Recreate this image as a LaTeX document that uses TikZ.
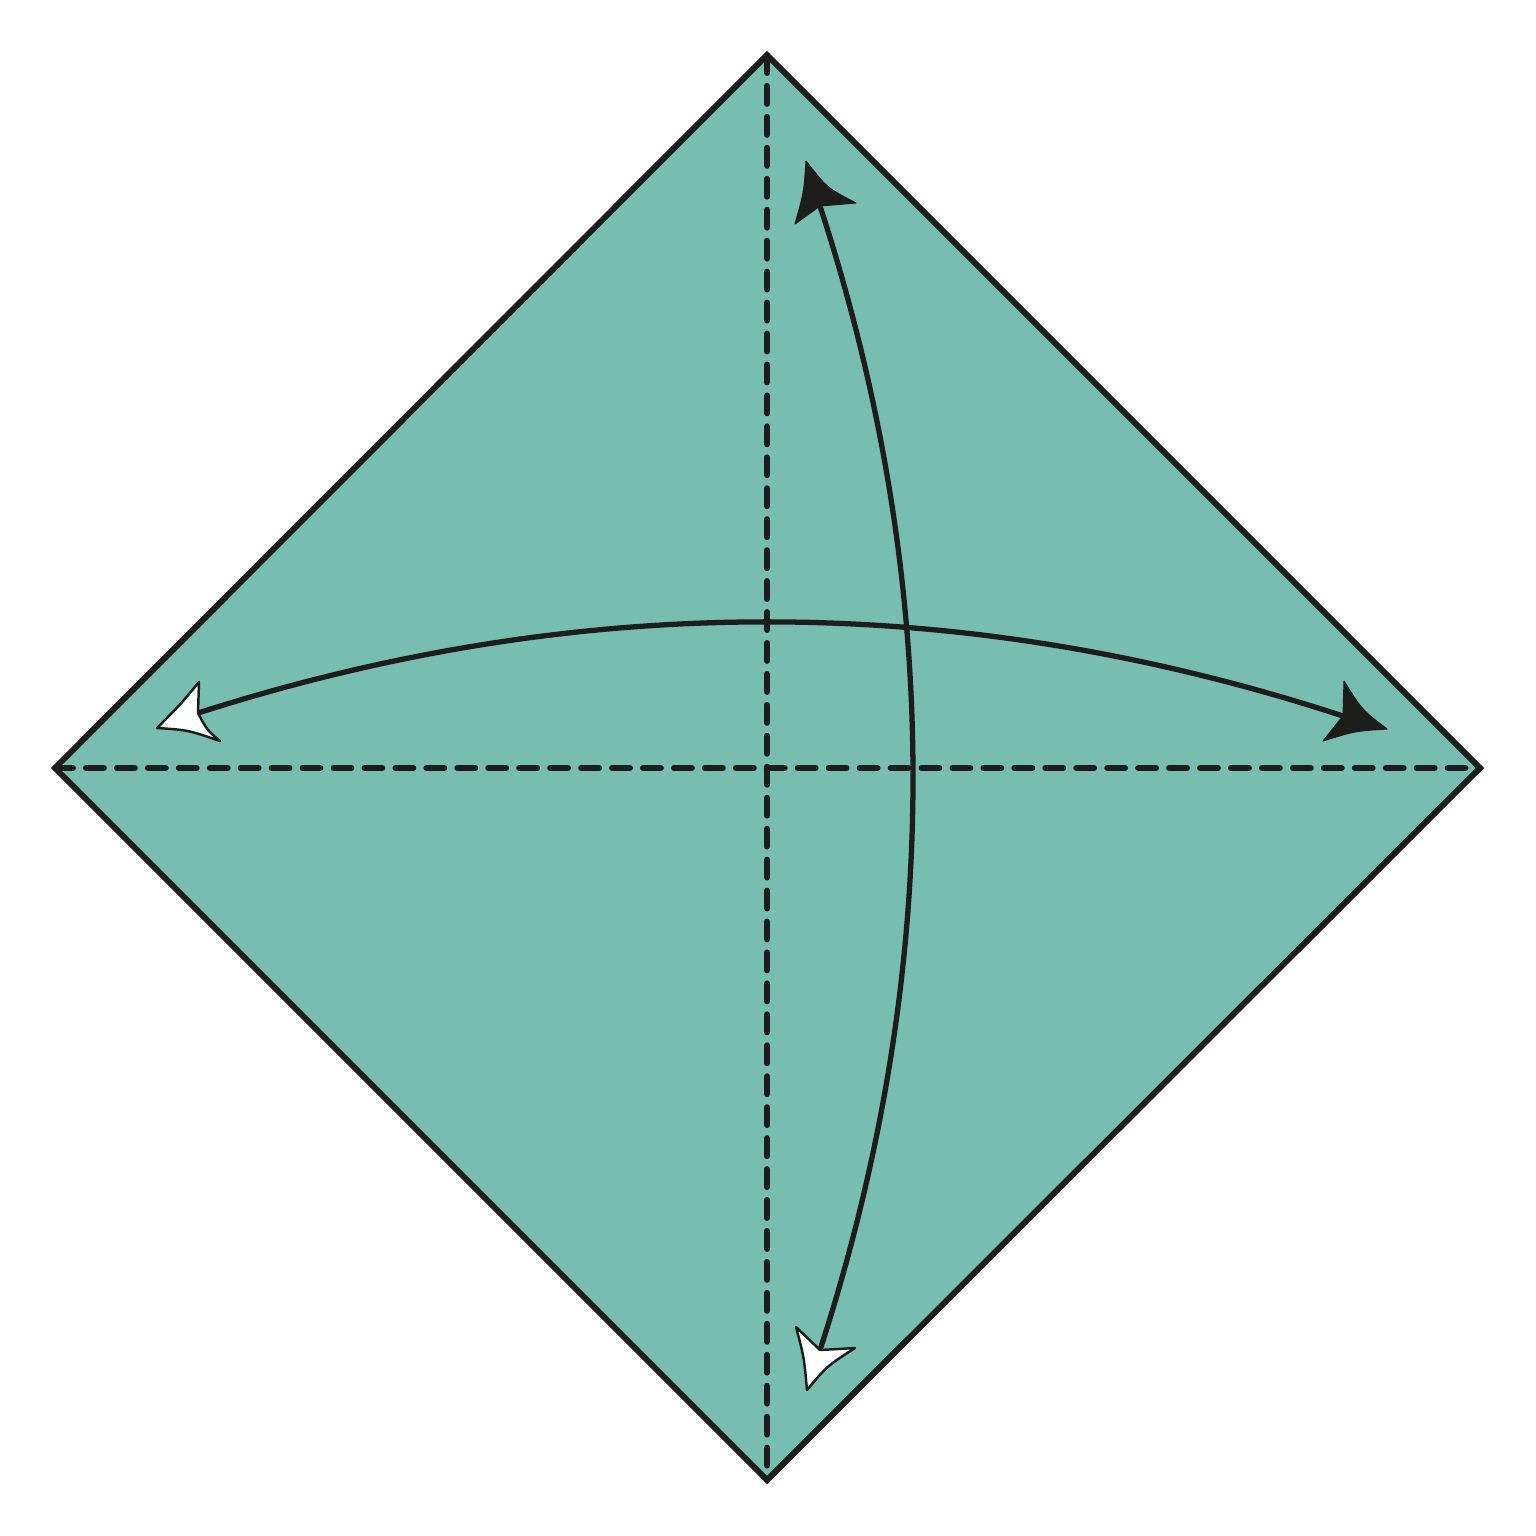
\documentclass[tikz,border=0pt]{standalone}
\definecolor{paper}{RGB}{119,189,176}
\definecolor{ink}{RGB}{29,29,27}
\begin{document}
\begin{tikzpicture}[x=0.01cm,y=-0.01cm,
  edge/.style={draw=ink,line width=1.7pt,line join=miter},
  crease/.style={draw=ink,line width=1.7pt,line cap=round,dash pattern=on 5.1pt off 3.7pt},
  move/.style={draw=ink,line width=1.5pt},
  blackhead/.style={fill=ink,draw=ink,line width=0.3pt,line join=round},
  whitehead/.style={fill=white,draw=ink,line width=0.7pt,line join=round}]
\useasboundingbox (0,0) rectangle (1536,1536);
\coordinate (top) at (767,55);
\coordinate (right) at (1480,768);
\coordinate (bottom) at (767,1480);
\coordinate (left) at (55,768);
\filldraw[edge,fill=paper] (top) -- (right) -- (bottom) -- (left) -- cycle;
\draw[crease] (top) -- (bottom);
\draw[crease] (left) -- (right);
% horizontal move
\coordinate (hL) at (198,713);
\coordinate (hR) at (1343,716);
\draw[move] (hL) .. controls (579,591) and (961,591) .. (hR);
% vertical move
\coordinate (vT) at (820,206);
\coordinate (vB) at (820,1350);
\draw[move] (vT) .. controls (944,586) and (944,968) .. (vB);
% heads
\filldraw[whitehead] (157,728) .. controls (180,705) .. (199,682) -- (hL) .. controls (207,730) .. (220,741) .. controls (188,730) .. cycle;
\filldraw[blackhead] (1387,729) .. controls (1362,710) .. (1344,681) -- (hR) -- (1323,741) .. controls (1355,731) .. cycle;
\filldraw[blackhead] (806,161) .. controls (827,188) .. (856,203) -- (vT) -- (795,224) .. controls (804,192) .. cycle;
\filldraw[whitehead] (807,1390) .. controls (804,1357) .. (796,1327) -- (vB) -- (855,1348) .. controls (827,1366) .. cycle;
\end{tikzpicture}
\end{document}
